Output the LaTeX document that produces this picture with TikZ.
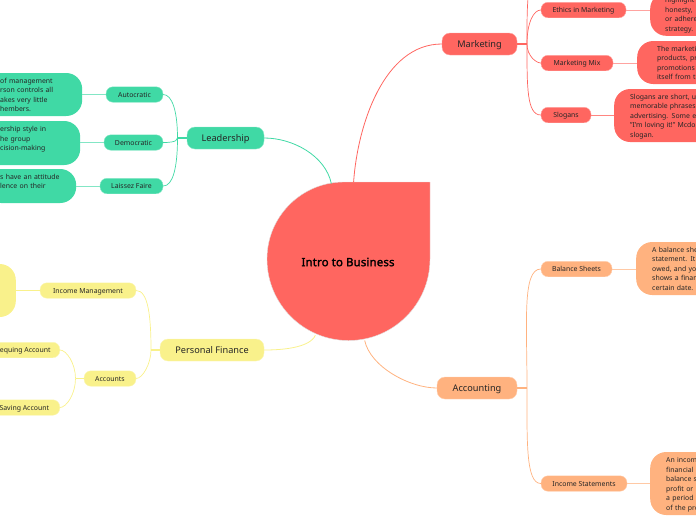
\documentclass[tikz,border=0pt]{standalone}
\usepackage{fontspec}
\setmainfont{Noto Sans}
\newfontfamily\introfont{Noto Sans}[FakeBold=2, LetterSpace=1.5]

\definecolor{leafgreen}{HTML}{40D9A5}
\definecolor{coral}{HTML}{FF6660}
\definecolor{peach}{HTML}{FFB27F}
\definecolor{butter}{HTML}{F9F18B}

\tikzset{
    topic/.style={rounded corners=8, minimum height=22, inner sep=0, text=black!85,
        text height=8pt, text depth=1pt, font=\fontsize{9.2}{12}\selectfont},
    subtopic/.style={rounded corners=7, minimum height=15.5, inner sep=0, text=black!85,
        text height=6pt, text depth=1pt, font=\fontsize{6.9}{9}\selectfont},
    notebox/.style={rounded corners=16, align=left, inner ysep=0, text=black!85,
        execute at begin node={\rule{0pt}{7.5pt}}, execute at end node={\rule[-2pt]{0pt}{2pt}},
        font=\fontsize{6.9}{9.5}\selectfont},
    trunk/.style={line width=0.8},
    stub/.style={line width=1.3},
    twig/.style={line width=0.7},
    leaf/.style={line width=1},
}

\begin{document}
\begin{tikzpicture}[x=1pt, y=-1pt]
        \useasboundingbox (0,0) rectangle (696,520);
        \clip (0,0) rectangle (696,520);

        % --- CENTRO ---
        \fill[coral, draw=black!12, line width=0.4] (430,182) -- (430,259) arc[start angle=0, end angle=180, radius=81.5]
            arc[start angle=180, end angle=270, radius=77] -- cycle;
        \node[circle, minimum size=160, inner sep=0, font=\fontsize{11.4}{13}\introfont] (intro) at (348,262) {Intro to Business};

        % --- LEADERSHIP ---
        \node[topic, fill=leafgreen, draw=leafgreen!60!white, line width=0.4, minimum width=77] (leadership) at (225.5,138) {Leadership};
        \node[subtopic, fill=leafgreen, draw=leafgreen!60!white, line width=0.4, minimum width=57] (autocratic) at (134.5,94.5) {Autocratic};
        \node[subtopic, fill=leafgreen, draw=leafgreen!60!white, line width=0.4, minimum width=59] (democratic) at (133.5,142.5) {Democratic};
        \node[subtopic, fill=leafgreen, draw=leafgreen!60!white, line width=0.4, minimum width=63] (laissez) at (131.5,186) {Laissez Faire};
        \node[notebox, fill=leafgreen, anchor=west, inner xsep=18, text width=64, minimum height=43] (autonote) at (-18,94.5)
            {of management\\rson controls all\\akes very little\\hembers.};
        \node[notebox, fill=leafgreen, anchor=west, inner xsep=18, text width=62, minimum height=44] (demonote) at (-18,143)
            {ership style in\\he group\\cision-making\\\mbox{}};
        \node[notebox, fill=leafgreen, anchor=west, inner xsep=15, text width=61, minimum height=34] (laissnote) at (-15,186)
            {s have an attitude\\lence on their\\\mbox{}};
        \coordinate (leadjoin) at (177.5,138);

        \draw[trunk, leafgreen] (leadership.east) to[out=0, in=102, out looseness=0.9, in looseness=0.9] (intro.102);
        \draw[stub, leafgreen] (leadership.west) -- (leadjoin);
        \draw[twig, leafgreen] (leadjoin) to[out=90, in=0, out looseness=1.5, in looseness=0.5] (autocratic.east);
        \draw[twig, leafgreen] (leadjoin) to[out=-90, in=0, out looseness=0.8, in looseness=0.5] (democratic.east);
        \draw[twig, leafgreen] (leadjoin) to[out=-90, in=0, out looseness=1.5, in looseness=0.5] (laissez.east);
        \draw[leaf, leafgreen!65!white] (autocratic.west) -- (autonote.east |- autocratic.west);
        \draw[leaf, leafgreen!65!white] (democratic.west) -- (demonote.east |- democratic.west);
        \draw[leaf, leafgreen!65!white] (laissez.west) -- (laissnote.east |- laissez.west);

        % --- MARKETING ---
        \node[topic, fill=coral, draw=coral!60!white, line width=0.4, minimum width=75] (marketing) at (479.5,44) {Marketing};
        \node[subtopic, fill=coral, draw=coral!60!white, line width=0.4, minimum width=85] (ethics) at (583.5,10) {Ethics in Marketing};
        \node[subtopic, fill=coral, draw=coral!60!white, line width=0.4, minimum width=72] (mix) at (577,63) {Marketing Mix};
        \node[subtopic, fill=coral, draw=coral!60!white, line width=0.4, minimum width=50] (slogans) at (566,115) {Slogans};
        \node[notebox, fill=coral, anchor=south west, inner xsep=15, inner ysep=2.5, text width=100] (ethicsnote) at (650,36)
            {highlight\\honesty, \\or adhere\\strategy.};
        \node[notebox, fill=coral, anchor=west, inner xsep=20, text width=100, minimum height=43] (mixnote) at (637,62.5)
            {The marketi\\products, pr\\promotions\\itself from th};
        \node[notebox, fill=coral, anchor=west, inner xsep=16, text width=100, minimum height=53] (slogannote) at (614,115.5)
            {Slogans are short, u\\memorable phrases\\advertising. Some ex\\"I'm loving it!" Mcdo\\slogan.};
        \coordinate (mktjoin) at (527,44);
        \coordinate (mktup) at (541,-30);

        \draw[trunk, coral] (marketing.west) to[out=180, in=86, out looseness=0.9, in looseness=0.9] (intro.86);
        \draw[stub, coral] (marketing.east) -- (mktjoin);
        \draw[twig, coral] (mktjoin) to[out=90, in=180, out looseness=1.2, in looseness=0.5] (mktup);
        \draw[twig, coral] (mktjoin) to[out=90, in=180, out looseness=1.5, in looseness=0.5] (ethics.west);
        \draw[twig, coral] (mktjoin) to[out=-90, in=180, out looseness=1.3, in looseness=0.5] (mix.west);
        \draw[twig, coral] (mktjoin) to[out=-90, in=180, out looseness=1.5, in looseness=0.5] (slogans.west);
        \draw[leaf, coral!60!white] (ethics.east) -- (ethicsnote.west |- ethics.east);
        \draw[leaf, coral!60!white] (mix.east) -- (mixnote.west |- mix.east);
        \draw[leaf, coral!80!white] (slogans.east) -- (slogannote.west |- slogans.east);

        % --- ACCOUNTING ---
        \node[topic, fill=peach, draw=peach!60!white, line width=0.4, minimum width=80] (accounting) at (477,388) {Accounting};
        \node[subtopic, fill=peach, draw=peach!60!white, line width=0.4, minimum width=71] (balance) at (576.5,269) {Balance Sheets};
        \node[subtopic, fill=peach, draw=peach!60!white, line width=0.4, minimum width=86] (income) at (584,483.5) {Income Statements};
        \node[notebox, fill=peach, anchor=west, inner xsep=16, text width=100, minimum height=53] (balancenote) at (636,268.5)
            {A balance she\\statement. It \\owed, and yo\\shows a finan\\certain date.};
        \node[notebox, fill=peach, anchor=west, inner xsep=16, text width=100, minimum height=63] (incomenote) at (650,483.5)
            {An incom\\financial \\balance s\\profit or l\\a period \\of the pro};
        \coordinate (acctjoin) at (527,388);

        \draw[trunk, peach] (accounting.west) to[out=180, in=-78, out looseness=0.8, in looseness=0.8] (intro.-78);
        \draw[stub, peach] (accounting.east) -- (acctjoin);
        \draw[twig, peach] (acctjoin) to[out=90, in=180, out looseness=1.4, in looseness=0.4] (balance.west);
        \draw[twig, peach] (acctjoin) to[out=-90, in=180, out looseness=1.4, in looseness=0.4] (income.west);
        \draw[leaf, peach!70!white] (balance.east) -- (balancenote.west |- balance.east);
        \draw[leaf, peach!70!white] (income.east) -- (incomenote.west |- income.east);

        % --- PERSONAL FINANCE ---
        \node[topic, fill=butter, draw=butter!60!white, line width=0.4, minimum width=104] (finance) at (212,350) {Personal Finance};
        \node[subtopic, fill=butter, draw=butter!60!white, line width=0.4, minimum width=96] (incomemgmt) at (88,290.5) {Income Management};
        \node[subtopic, fill=butter, draw=butter!60!white, line width=0.4, minimum width=52] (accounts) at (110,378.5) {Accounts};
        \node[subtopic, fill=butter, draw=butter!60!white, line width=0.4, minimum width=69, anchor=east] (chequing) at (60,350) {equing Account};
        \node[subtopic, fill=butter, draw=butter!60!white, line width=0.4, minimum width=71, anchor=east] (saving) at (60,407.5) {Saving Account};
        \node[rounded corners=16, fill=butter, anchor=east, minimum width=50, minimum height=53] (mgmtnote) at (16,290.5) {};
        \coordinate (finjoin) at (151,350);
        \coordinate (acctsjoin) at (75.5,378.5);

        \draw[trunk, butter] (finance.east) to[out=0, in=-114, out looseness=0.7, in looseness=0.7] (intro.-114);
        \draw[stub, butter] (finance.west) -- (finjoin);
        \draw[twig, butter] (finjoin) to[out=90, in=0, out looseness=1.4, in looseness=0.5] (incomemgmt.east);
        \draw[twig, butter] (finjoin) to[out=-90, in=0, out looseness=1.1, in looseness=0.5] (accounts.east);
        \draw[stub, butter] (accounts.west) -- (acctsjoin);
        \draw[twig, butter] (acctsjoin) to[out=90, in=0, out looseness=1.2, in looseness=0.5] (chequing.east);
        \draw[twig, butter] (acctsjoin) to[out=-90, in=0, out looseness=1.2, in looseness=0.5] (saving.east);
        \draw[leaf, butter] (incomemgmt.west) -- (mgmtnote.east |- incomemgmt.west);

    \end{tikzpicture}
\end{document}
